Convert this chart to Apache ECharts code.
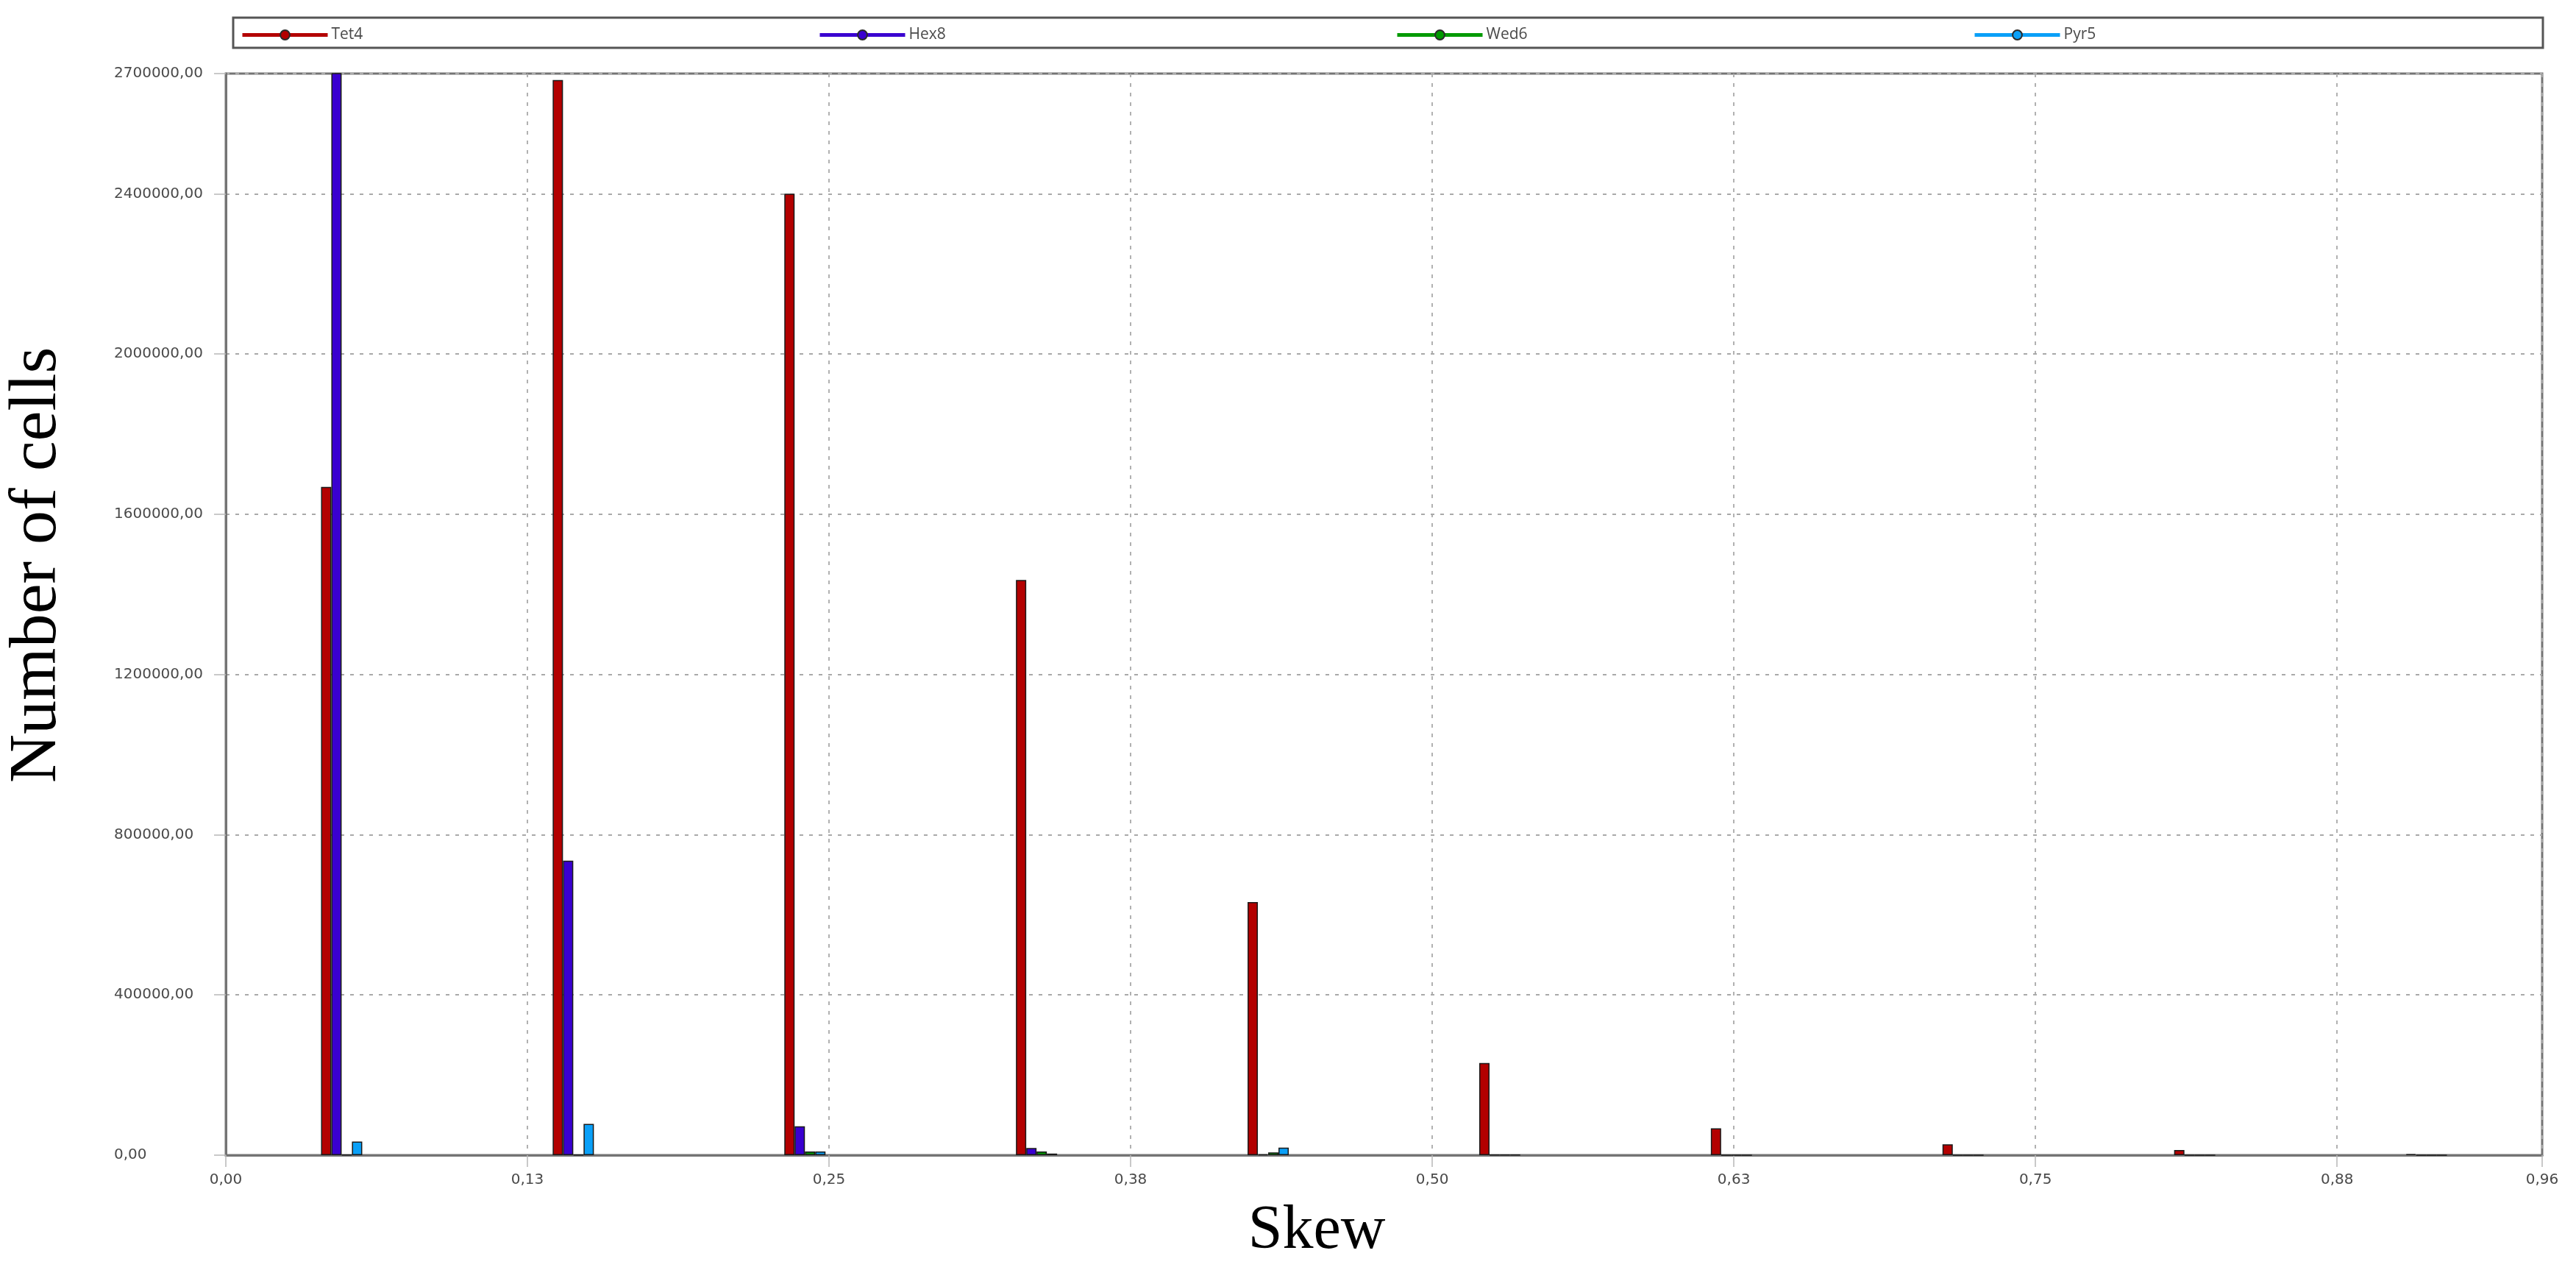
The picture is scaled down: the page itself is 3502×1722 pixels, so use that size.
<!DOCTYPE html>
<html>
<head>
<meta charset="utf-8">
<script src="https://cdn.jsdelivr.net/npm/echarts@6/dist/echarts.min.js"></script>
<style>
html,body{margin:0;padding:0;background:#fff;}
#chart{width:3502px;height:1722px;}
</style>
</head>
<body>
<div id="chart"></div>
<script>
// Bin centres of the skew histogram (x axis)
const binCenters = [0.048, 0.144, 0.24, 0.336, 0.432, 0.528, 0.624, 0.72, 0.816, 0.912];
// Number of cells per element type
const tet4 = [1668000, 2684000, 2400000, 1436000, 632000, 230000, 67000, 27000, 13000, 2500];
const hex8 = [2760000, 735000, 72000, 18000, 2000, 500, 300, 200, 100, 100];
const wed6 = [800, 800, 9000, 9000, 7000, 600, 400, 300, 200, 100];
const pyr5 = [34000, 78000, 9000, 4000, 19000, 800, 400, 300, 200, 100];
const seriesNames = ['Tet4', 'Hex8', 'Wed6', 'Pyr5'];
const seriesColors = ['#b30000', '#3a00d0', '#009a00', '#0aa0f8'];
const seriesValues = [tet4, hex8, wed6, pyr5];
// Axis ranges / ticks
const xMin = 0, xMax = 0.96, xStep = 0.125;
const yMin = 0, yMax = 2700000, yStep = 400000;

const fmt = v => Number(v).toFixed(2).replace('.', ',');

const chart = echarts.init(document.getElementById('chart'), null, {renderer: 'canvas'});

const legendSeries = seriesNames.map((n, i) => ({
  name: n, type: 'line', data: [], symbol: 'circle', symbolSize: 12,
  itemStyle: {color: seriesColors[i], borderColor: '#2a2a2a', borderWidth: 1.5},
  lineStyle: {color: seriesColors[i], width: 5}
}));

const barSeries = seriesNames.map((n, i) => ({
  name: n, type: 'bar',
  data: binCenters.map((x, k) => [x, seriesValues[i][k]]),
  barWidth: 14, barGap: '0%', clip: true,
  itemStyle: {color: seriesColors[i], borderColor: '#1a1a1a', borderWidth: 1.5}
}));

const gridLine = {show: true, lineStyle: {color: '#a9a9a9', width: 1.8, type: [5, 8]}};

const option = {
  animation: false,
  backgroundColor: '#fff',
  grid: {left: 307, right: 46, top: 100, bottom: 152, show: true,
         borderColor: '#747474', borderWidth: 3, backgroundColor: '#fff'},
  legend: seriesNames.map((n, i) => ({
    data: [n], left: 327 + 785 * i, top: 37, padding: 0,
    itemWidth: 116, itemHeight: 16, selectedMode: false,
    lineStyle: {width: 5},
    textStyle: {fontFamily: 'Open Sans', fontSize: 21, color: '#4a4a4a'}
  })),
  xAxis: {
    type: 'value', min: xMin, max: xMax, interval: xStep,
    axisLine: {lineStyle: {color: '#747474', width: 3}},
    axisTick: {show: true, length: 16, lineStyle: {color: '#b8b8b8', width: 1.5}},
    axisLabel: {formatter: fmt, margin: 24, fontFamily: 'DejaVu Sans', fontSize: 20, color: '#4a4a4a'},
    splitLine: gridLine
  },
  yAxis: {
    type: 'value', min: yMin, max: yMax, interval: yStep,
    axisLine: {show: true, lineStyle: {color: '#747474', width: 3}},
    axisTick: {show: true, length: 16, lineStyle: {color: '#b8b8b8', width: 1.5}},
    axisLabel: {formatter: fmt, align: 'left', margin: 152, fontFamily: 'DejaVu Sans', fontSize: 20, color: '#4a4a4a'},
    splitLine: gridLine
  },
  graphic: [
    {type: 'rect', shape: {x: 317, y: 24, width: 3140, height: 41},
     style: {fill: 'none', stroke: '#555', lineWidth: 3}, z: -1},
    {type: 'text', x: 51, y: 768, rotation: Math.PI / 2,
     style: {text: 'Number of cells', fontFamily: 'Liberation Serif', fontSize: 92,
             fill: '#000', align: 'center', verticalAlign: 'middle'}},
    {type: 'text', x: 1790, y: 1674,
     style: {text: 'Skew', fontFamily: 'Liberation Serif', fontSize: 84,
             fill: '#000', align: 'center', verticalAlign: 'middle'}}
  ],
  series: legendSeries.concat(barSeries)
};
chart.setOption(option);
</script>
</body>
</html>
